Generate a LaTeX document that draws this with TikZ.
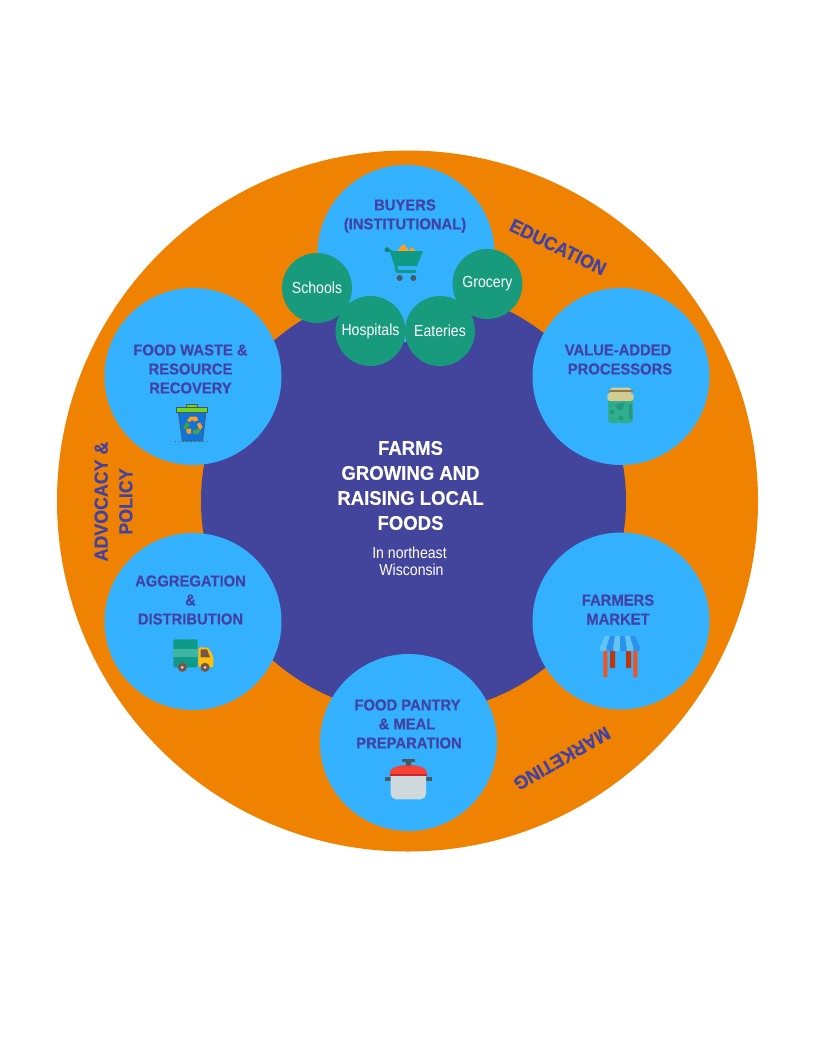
\documentclass[tikz,border=0pt]{standalone}
\usepackage{fontspec}
\setmainfont{Liberation Sans}
\newfontfamily\condfont[FakeStretch=0.88]{Liberation Sans}
\newfontfamily\headfont[FakeStretch=0.94,FakeBold=0.25]{Liberation Sans Bold}
\definecolor{ringorange}{HTML}{EF8200}
\definecolor{coreindigo}{HTML}{43449C}
\definecolor{hubblue}{HTML}{33B1FF}
\definecolor{subgreen}{HTML}{189B7C}
\definecolor{labelindigo}{HTML}{4242A4}
\definecolor{icteal}{HTML}{0E9A86}
\definecolor{icteallight}{HTML}{3FB5A3}
\definecolor{icslate}{HTML}{455A64}
\definecolor{icorange}{HTML}{FF9F1C}
\definecolor{icred}{HTML}{F44336}
\definecolor{icdarkred}{HTML}{C62828}
\definecolor{icsteel}{HTML}{CFD8DC}
\definecolor{icbin}{HTML}{1273D6}
\definecolor{iclime}{HTML}{76D320}
\definecolor{icgreen}{HTML}{43A047}
\definecolor{icyellow}{HTML}{FFC107}
\definecolor{icbrown}{HTML}{795548}
\definecolor{icpost}{HTML}{F4511E}
\definecolor{icpostdark}{HTML}{BF360C}
\definecolor{icskyl}{HTML}{64C3F5}
\definecolor{icskyd}{HTML}{2A92EA}
\definecolor{iclid}{HTML}{D2CB92}
\definecolor{icband}{HTML}{8D7B4E}
\definecolor{icjar}{HTML}{2FAE8E}
\definecolor{icjardark}{HTML}{16806F}
\tikzset{
  disc/.style={circle,inner sep=0pt,minimum size=#1*0.75pt},
  hub/.style={disc=177,fill=hubblue},
  sub/.style={disc=70,fill=subgreen,text=white,font=\condfont\fontsize{12}{14}\selectfont},
  hublabel/.style={text=labelindigo,align=center,inner sep=0pt,font=\headfont\fontsize{11.8}{14.25}\selectfont},
  ringlabel/.style={text=labelindigo,align=center,inner sep=0pt,font=\headfont\fontsize{14.2}{18.5}\selectfont},
}
\begin{document}
\begin{tikzpicture}[x=0.75pt,y=-0.75pt]
\useasboundingbox[fill=white] (0,0) rectangle (816,1056);
% rings
\node[disc=701,fill=ringorange] (ring) at (407.5,501) {};
\node[disc=425,fill=coreindigo] (core) at (413.5,501) {};
% hubs
\node[hub] (buyers) at (406,253.5) {};
\node[hub] (value) at (621,376.5) {};
\node[hub] (waste) at (193,376.5) {};
\node[hub] (aggr) at (193,621.5) {};
\node[hub] (market) at (621,621) {};
\node[hub] (pantry) at (408.5,742.5) {};
% buyer subcategories
\node[sub] (schools) at (317,288) {Schools};
\node[sub] (hospitals) at (370.5,331) {Hospitals};
\node[sub] (eateries) at (440,331) {Eateries};
\node[sub] (grocery) at (487.5,284) {Grocery};
% core text
\node[text=white,align=center,inner sep=0pt,font=\headfont\fontsize{14.8}{18.75}\selectfont] (farms) at (410.5,485.5) {FARMS\\GROWING AND\\RAISING LOCAL\\FOODS};
\node[text=white,inner sep=0pt,font=\condfont\fontsize{12}{14}\selectfont] (ne) at (409.5,553) {In northeast};
\node[text=white,inner sep=0pt,font=\condfont\fontsize{12}{14}\selectfont] (wi) at (411.5,570) {Wisconsin};
% hub labels
\node[hublabel] (tbuyers) at (405,216) {BUYERS\\(INSTITUTIONAL)};
\node[hublabel] (tvalue1) at (618,350) {VALUE-ADDED};
\node[hublabel] (tvalue2) at (620,369) {PROCESSORS};
\node[hublabel] (twaste) at (190.5,369) {FOOD WASTE \&\\RESOURCE\\RECOVERY};
\node[hublabel] (taggr) at (190.5,600) {AGGREGATION\\\&\\DISTRIBUTION};
\node[hublabel] (tmarket) at (618,609.5) {FARMERS\\MARKET};
\node[hublabel] (tpant1) at (407.5,705) {FOOD PANTRY};
\node[hublabel] (tpant2) at (407,724) {\& MEAL};
\node[hublabel] (tpant3) at (409,743) {PREPARATION};
% ring labels
\node[ringlabel,rotate=-26] (edu) at (558,247) {EDUCATION};
\node[ringlabel,rotate=210] (mkt) at (562,758.5) {MARKETING};
\node[ringlabel,rotate=90] (adv) at (113.5,501.5) {ADVOCACY \&\\POLICY};
% cart
\fill[icorange] (397,251.5)--(403.3,244)--(410,251.5)--cycle (408,251.5)--(412,247)--(416,251.5)--cycle;
\fill[icteal] (391,251)--(423,251)--(417,266)--(396,266)--cycle;
\draw[icteal,line width=2pt,line join=round] (387,250)--(391,251)--(396,266)--(397,271.5)--(416,271.5);
\fill[icjardark] (387,249.7) circle[radius=2.5];
\fill[icslate] (399.7,278) circle[radius=3] (413.3,278) circle[radius=3];
% bin
\fill[icbin,draw=icslate,line width=0.5pt] (178.3,412.3)--(206,412.3)--(202.7,441)--(182.3,441)--cycle;
\fill[iclime,draw=icslate,line width=0.4pt] (186.7,404.3) rectangle (197.3,407.5);
\fill[iclime,draw=icslate,line width=0.4pt] (176.7,407.5) rectangle (207.7,412.3);
\draw[icslate,line width=0.6pt,dash pattern=on 1pt off 2pt] (175,441.5)--(210,441.5);
\fill[icorange] (187,421)--(190,416.5)--(197,416.5)--(198,420.5)--(194,421.5)--(192,419.5)--(190.5,422)--cycle;
\fill[icorange] (197,424)--(200,422.5)--(202.5,427)--(200,430)--(198,427)--cycle;
\fill[icorange] (186,429)--(191,428.5)--(191,433.5)--(187,433.5)--cycle;
\fill[icgreen] (183,428)--(186.5,422)--(189.5,424)--(186.5,430)--cycle;
\fill[icgreen] (193,430)--(199,429)--(200.5,431)--(198,434)--(193,434)--cycle;
% jar
\fill[icjar,rounded corners=2.5pt] (608,396) rectangle (633,423);
\fill[icjardark,opacity=.45] (612,412) circle[radius=2.4] (621,418) circle[radius=2.4] (629,404) rectangle (632,419) (615,405)--(625,402)--(622,410)--(618,410)--cycle;
\fill[iclid,rounded corners=2pt] (610,387.5) rectangle (631,396);
\fill[iclid,rounded corners=2pt] (607.3,393) rectangle (633.5,401);
\fill[icband] (608.5,390.3) rectangle (632.5,392);
% market stall
\fill[icpostdark] (610,651) rectangle (615,668) (626,651) rectangle (631,668);
\fill[icpost] (603.3,651) rectangle (607.3,677) (633.3,651) rectangle (637.3,677);
\foreach \i/\c in {0/icskyl,1/icskyd,2/icskyl,3/icskyd,4/icskyl,5/icskyd}{
  \fill[\c] ({605+5*\i},636)--({605+5*(\i+1)},636)--({600+6.67*(\i+1)},647)--({600+6.67*\i},647)--cycle;
  \fill[\c,rounded corners=1pt] ({600+6.67*\i},646)--({600+6.67*(\i+1)},646)--({600+6.67*(\i+1)},651)--({600+6.67*\i},651)--cycle;
}
% truck
\fill[icteal,rounded corners=1pt] (173.3,639.3) rectangle (197.7,667.3);
\fill[icteallight] (173.3,649.3) rectangle (197.7,657.3);
\fill[icyellow,rounded corners=1.5pt] (198.3,647.3)--(208,647.3)--(213.3,656)--(213.3,667.3)--(198.3,667.3)--cycle;
\fill[icbrown] (200.7,649.3)--(207,649.3)--(210,657.3)--(200.7,657.3)--cycle;
\fill[icbrown] (182.3,667.3) circle[radius=4.6] (205,667.3) circle[radius=4.6];
\fill[icsteel] (182.3,667.3) circle[radius=1.5] (205,667.3) circle[radius=1.5];
% pot
\fill[icslate] (385,777.3) rectangle (432,780.7);
\fill[icsteel,rounded corners=4pt] (390.7,770)--(426,770)--(426,799.3)--(390.7,799.3)--cycle;
\fill[icred] (390,772) arc[start angle=180,end angle=360,x radius=18.4,y radius=7]--cycle;
\fill[icred] (390,771.7) rectangle (426.8,773.5);
\fill[icdarkred] (390,773.5) rectangle (426.8,775.7);
\fill[icslate] (402.3,759.3) rectangle (415,761.5);
\fill[icslate] (405.5,761.5)--(411.5,761.5)--(410.5,765.5)--(406.5,765.5)--cycle;
\end{tikzpicture}
\end{document}
